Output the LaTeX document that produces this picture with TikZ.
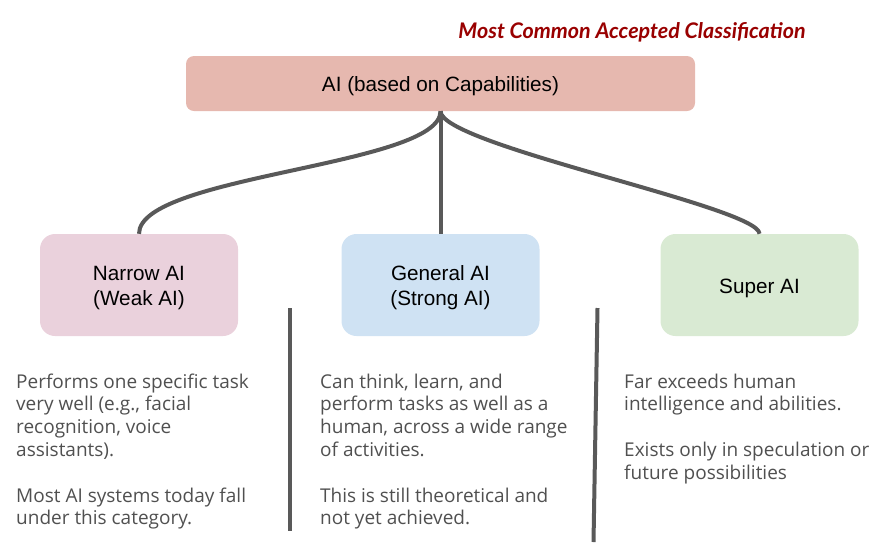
\documentclass[tikz,border=0pt]{standalone}
\usepackage{fontspec}
\setmainfont{Liberation Sans}
\newfontfamily\bodyfont{Open Sans}
\newfontfamily\titlefont{Lato}
\usetikzlibrary{calc}
\definecolor{topfill}{HTML}{E6B8AF}
\definecolor{narrowfill}{HTML}{EAD1DC}
\definecolor{generalfill}{HTML}{CFE2F3}
\definecolor{superfill}{HTML}{D9EAD3}
\definecolor{linkgray}{HTML}{595959}
\definecolor{bodygray}{HTML}{505050}
\definecolor{titlered}{HTML}{990000}
\begin{document}
\begin{tikzpicture}[x=1pt,y=-1pt,
  box/.style={rounded corners=15pt, inner sep=0pt,
    minimum width=198pt, minimum height=102pt},
  boxtext/.style={inner sep=0pt, align=center,
    font=\fontsize{20.7}{24.8}\selectfont},
  link/.style={draw=linkgray, line width=4pt},
  sep/.style={draw=linkgray, line width=4pt},
  desc/.style={anchor=base west, inner sep=0pt, text=bodygray,
    font=\bodyfont\fontsize{19}{22.8}\selectfont},
]
\useasboundingbox (0,0) rectangle (888,542);
\node[text=titlered, anchor=base, inner sep=0pt,
  font=\titlefont\bfseries\itshape\fontsize{21.5}{25}\selectfont] (title) at (632,38) {Most Common Accepted Classification};
\node[box, fill=topfill, rounded corners=8pt, minimum width=509pt, minimum height=55pt] (top) at (440.5,83.5) {};
\node[box, fill=narrowfill] (narrow) at (139,285) {};
\node[box, fill=generalfill] (general) at (440.5,285) {};
\node[box, fill=superfill] (super) at (759.5,285) {};
\node[boxtext] (toplabel) at ($(top.center)+(0,3)$) {AI (based on Capabilities)};
\node[boxtext] (narrowlabel) at ($(narrow.center)+(0,3)$) {Narrow AI\\(Weak AI)};
\node[boxtext] (generallabel) at ($(general.center)+(0,3)$) {General AI\\(Strong AI)};
\node[boxtext] (superlabel) at ($(super.center)+(0,3)$) {Super AI};

\draw[link] (top.south) .. controls ($(top.south)+(0,55)$) and ($(narrow.north)+(0,-59)$) .. (narrow.north);
\draw[link] (top.south) -- (general.north);
\draw[link] (top.south) .. controls ($(top.south)+(0,34)$) and ($(super.north)+(0,-27)$) .. (super.north);

\coordinate (s1a) at (289.5,308);
\coordinate (s1b) at (289.5,531);
\coordinate (s2a) at (597.5,308);
\coordinate (s2b) at (593.5,542);
\draw[sep] (s1a) -- (s1b);
\draw[sep] (s2a) -- (s2b);

\node[desc] (d1) at (16,388) {\parbox[t]{270pt}{Performs one specific task\\very well (e.g., facial\\recognition, voice\\assistants).\\[22.8pt]Most AI systems today fall\\under this category.}};
\node[desc] (d2) at (320,388) {\parbox[t]{270pt}{Can think, learn, and\\perform tasks as well as a\\human, across a wide range\\of activities.\\[22.8pt]This is still theoretical and\\not yet achieved.}};
\node[desc] (d3) at (624,388) {\parbox[t]{264pt}{Far exceeds human\\intelligence and abilities.\\[22.8pt]Exists only in speculation or\\future possibilities}};
\end{tikzpicture}
\end{document}
